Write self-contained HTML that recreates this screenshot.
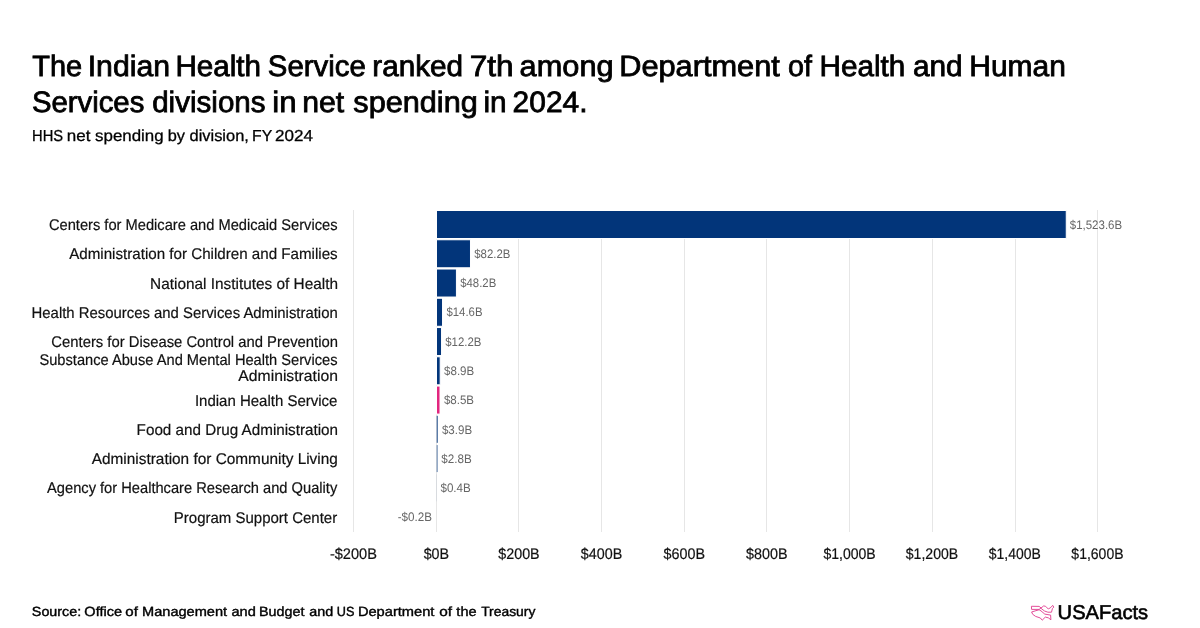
<!DOCTYPE html>
<html><head><meta charset="utf-8"><title>HHS net spending by division, FY 2024</title>
<style>
html,body{margin:0;padding:0;background:#fff;}
body{width:1200px;height:628px;overflow:hidden;position:relative;}
svg{position:absolute;left:0;top:0;will-change:transform;text-rendering:geometricPrecision;}
text{font-family:"Liberation Sans",Arial,sans-serif;}
.t{font-size:29.4px;fill:#000;stroke:#000;stroke-width:0.8px;}
.st{font-size:15.9px;fill:#000;stroke:#000;stroke-width:0.3px;}
.ft{font-size:13.3px;fill:#000;stroke:#000;stroke-width:0.4px;}
.yl{font-size:15.5px;fill:#111;stroke:#111;stroke-width:0.2px;}
.xl{font-size:15.4px;fill:#111;stroke:#111;stroke-width:0.2px;}
.bl{font-size:12.4px;fill:#666;}
.logo{font-size:20px;fill:#000;stroke:#000;stroke-width:0.6px;}
</style></head>
<body>
<svg width="1200" height="628" viewBox="0 0 1200 628">
<text class="t" y="76"><tspan x="32.34" textLength="49.89" lengthAdjust="spacingAndGlyphs">The</tspan> <tspan x="87.7" textLength="82.31" lengthAdjust="spacingAndGlyphs">Indian</tspan> <tspan x="175.44" textLength="85.65" lengthAdjust="spacingAndGlyphs">Health</tspan> <tspan x="267.82" textLength="97.93" lengthAdjust="spacingAndGlyphs">Service</tspan> <tspan x="372.24" textLength="90.92" lengthAdjust="spacingAndGlyphs">ranked</tspan> <tspan x="469.74" textLength="43.96" lengthAdjust="spacingAndGlyphs">7th</tspan> <tspan x="519.63" textLength="94.01" lengthAdjust="spacingAndGlyphs">among</tspan> <tspan x="619.2" textLength="160.64" lengthAdjust="spacingAndGlyphs">Department</tspan> <tspan x="787.98" textLength="23.91" lengthAdjust="spacingAndGlyphs">of</tspan> <tspan x="819.47" textLength="85.81" lengthAdjust="spacingAndGlyphs">Health</tspan> <tspan x="912.92" textLength="49.82" lengthAdjust="spacingAndGlyphs">and</tspan> <tspan x="969.28" textLength="96.57" lengthAdjust="spacingAndGlyphs">Human</tspan></text>
<text class="t" y="112"><tspan x="31.95" textLength="112.39" lengthAdjust="spacingAndGlyphs">Services</tspan> <tspan x="152.16" textLength="113.43" lengthAdjust="spacingAndGlyphs">divisions</tspan> <tspan x="272.24" textLength="24.32" lengthAdjust="spacingAndGlyphs">in</tspan> <tspan x="302.28" textLength="41.98" lengthAdjust="spacingAndGlyphs">net</tspan> <tspan x="353.34" textLength="124.41" lengthAdjust="spacingAndGlyphs">spending</tspan> <tspan x="483.43" textLength="23.2" lengthAdjust="spacingAndGlyphs">in</tspan> <tspan x="512.63" textLength="74.89" lengthAdjust="spacingAndGlyphs">2024.</tspan></text>
<text class="st" y="141"><tspan x="32.07" textLength="31.03" lengthAdjust="spacingAndGlyphs">HHS</tspan> <tspan x="66.87" textLength="23.62" lengthAdjust="spacingAndGlyphs">net</tspan> <tspan x="95.06" textLength="68.61" lengthAdjust="spacingAndGlyphs">spending</tspan> <tspan x="167.79" textLength="17.25" lengthAdjust="spacingAndGlyphs">by</tspan> <tspan x="189.53" textLength="59.34" lengthAdjust="spacingAndGlyphs">division,</tspan> <tspan x="252" textLength="19.92" lengthAdjust="spacingAndGlyphs">FY</tspan> <tspan x="275.08" textLength="37.84" lengthAdjust="spacingAndGlyphs">2024</tspan></text>
<rect x="353" y="210" width="1" height="322" fill="#e6e6e6"/>
<rect x="436" y="210" width="1" height="322" fill="#e6e6e6"/>
<rect x="518" y="210" width="1" height="322" fill="#e6e6e6"/>
<rect x="601" y="210" width="1" height="322" fill="#e6e6e6"/>
<rect x="684" y="210" width="1" height="322" fill="#e6e6e6"/>
<rect x="766" y="210" width="1" height="322" fill="#e6e6e6"/>
<rect x="849" y="210" width="1" height="322" fill="#e6e6e6"/>
<rect x="932" y="210" width="1" height="322" fill="#e6e6e6"/>
<rect x="1015" y="210" width="1" height="322" fill="#e6e6e6"/>
<rect x="1097" y="210" width="1" height="322" fill="#e6e6e6"/>
<rect x="436.5" y="210.5" width="629.75" height="28" fill="#02357a" stroke="#fff" stroke-width="1"/>
<text class="bl" x="1069.79" y="229" textLength="52.33" lengthAdjust="spacingAndGlyphs">$1,523.6B</text>
<text class="yl" x="48.93" y="230" textLength="288.55" lengthAdjust="spacingAndGlyphs">Centers for Medicare and Medicaid Services</text>
<rect x="436.5" y="239.76" width="33.98" height="28" fill="#02357a" stroke="#fff" stroke-width="1"/>
<text class="bl" x="474.22" y="258" textLength="36.14" lengthAdjust="spacingAndGlyphs">$82.2B</text>
<text class="yl" x="69.16" y="259" textLength="268.53" lengthAdjust="spacingAndGlyphs">Administration for Children and Families</text>
<rect x="436.5" y="269.02" width="19.92" height="28" fill="#02357a" stroke="#fff" stroke-width="1"/>
<text class="bl" x="460.16" y="287" textLength="36.07" lengthAdjust="spacingAndGlyphs">$48.2B</text>
<text class="yl" x="150.09" y="289" textLength="187.96" lengthAdjust="spacingAndGlyphs">National Institutes of Health</text>
<rect x="436.5" y="298.28" width="6.03" height="28" fill="#02357a" stroke="#fff" stroke-width="1"/>
<text class="bl" x="446.44" y="316" textLength="36.06" lengthAdjust="spacingAndGlyphs">$14.6B</text>
<text class="yl" x="31.58" y="318" textLength="306.14" lengthAdjust="spacingAndGlyphs">Health Resources and Services Administration</text>
<rect x="436.5" y="327.54" width="5.04" height="28" fill="#02357a" stroke="#fff" stroke-width="1"/>
<text class="bl" x="445.28" y="346" textLength="36.21" lengthAdjust="spacingAndGlyphs">$12.2B</text>
<text class="yl" x="51.37" y="347" textLength="286.59" lengthAdjust="spacingAndGlyphs">Centers for Disease Control and Prevention</text>
<rect x="436.5" y="356.8" width="3.68" height="28" fill="#02357a" stroke="#fff" stroke-width="1"/>
<text class="bl" x="444.07" y="375" textLength="30.17" lengthAdjust="spacingAndGlyphs">$8.9B</text>
<text class="yl" x="39.43" y="365" textLength="298.05" lengthAdjust="spacingAndGlyphs">Substance Abuse And Mental Health Services</text>
<text class="yl" x="238.36" y="381" textLength="99.53" lengthAdjust="spacingAndGlyphs">Administration</text>
<rect x="436.5" y="386.06" width="3.51" height="28" fill="#e2267f" stroke="#fff" stroke-width="1"/>
<text class="bl" x="443.95" y="404" textLength="30.11" lengthAdjust="spacingAndGlyphs">$8.5B</text>
<text class="yl" x="194.89" y="406" textLength="142.57" lengthAdjust="spacingAndGlyphs">Indian Health Service</text>
<rect x="436" y="415.82" width="1" height="27" fill="#02357a" fill-opacity="0.25"/>
<rect x="437" y="415.82" width="1" height="27" fill="#02357a" fill-opacity="0.65"/>
<text class="bl" x="441.92" y="434" textLength="30.19" lengthAdjust="spacingAndGlyphs">$3.9B</text>
<text class="yl" x="136.61" y="435" textLength="201.44" lengthAdjust="spacingAndGlyphs">Food and Drug Administration</text>
<rect x="436" y="445.08" width="1" height="27" fill="#02357a" fill-opacity="0.22"/>
<rect x="437" y="445.08" width="1" height="27" fill="#02357a" fill-opacity="0.42"/>
<text class="bl" x="441.33" y="463" textLength="30.47" lengthAdjust="spacingAndGlyphs">$2.8B</text>
<text class="yl" x="91.78" y="464" textLength="246.05" lengthAdjust="spacingAndGlyphs">Administration for Community Living</text>
<rect x="436" y="474.34" width="1" height="27" fill="#02357a" fill-opacity="0.06"/>
<text class="bl" x="440.45" y="492" textLength="30.33" lengthAdjust="spacingAndGlyphs">$0.4B</text>
<text class="yl" x="47.05" y="493" textLength="290.2" lengthAdjust="spacingAndGlyphs">Agency for Healthcare Research and Quality</text>
<text class="bl" x="397.65" y="521" textLength="34.28" lengthAdjust="spacingAndGlyphs">-$0.2B</text>
<text class="yl" x="173.8" y="523" textLength="163.41" lengthAdjust="spacingAndGlyphs">Program Support Center</text>
<text class="xl" x="329.9" y="559" textLength="47.01" lengthAdjust="spacingAndGlyphs">-$200B</text>
<text class="xl" x="423.65" y="559" textLength="25.46" lengthAdjust="spacingAndGlyphs">$0B</text>
<text class="xl" x="498.28" y="559" textLength="41.38" lengthAdjust="spacingAndGlyphs">$200B</text>
<text class="xl" x="580.87" y="559" textLength="41.45" lengthAdjust="spacingAndGlyphs">$400B</text>
<text class="xl" x="663.49" y="559" textLength="41.48" lengthAdjust="spacingAndGlyphs">$600B</text>
<text class="xl" x="746.09" y="559" textLength="41.56" lengthAdjust="spacingAndGlyphs">$800B</text>
<text class="xl" x="823.4" y="559" textLength="52.28" lengthAdjust="spacingAndGlyphs">$1,000B</text>
<text class="xl" x="905.81" y="559" textLength="52.37" lengthAdjust="spacingAndGlyphs">$1,200B</text>
<text class="xl" x="988.75" y="559" textLength="52.1" lengthAdjust="spacingAndGlyphs">$1,400B</text>
<text class="xl" x="1071.37" y="559" textLength="52.16" lengthAdjust="spacingAndGlyphs">$1,600B</text>
<text class="ft" y="616"><tspan x="31.86" textLength="49.25" lengthAdjust="spacingAndGlyphs">Source:</tspan> <tspan x="84.39" textLength="37.59" lengthAdjust="spacingAndGlyphs">Office</tspan> <tspan x="125.34" textLength="12.57" lengthAdjust="spacingAndGlyphs">of</tspan> <tspan x="142.04" textLength="85.08" lengthAdjust="spacingAndGlyphs">Management</tspan> <tspan x="231.51" textLength="24.26" lengthAdjust="spacingAndGlyphs">and</tspan> <tspan x="258.96" textLength="45.44" lengthAdjust="spacingAndGlyphs">Budget</tspan> <tspan x="309.38" textLength="23.93" lengthAdjust="spacingAndGlyphs">and</tspan> <tspan x="336.83" textLength="17.6" lengthAdjust="spacingAndGlyphs">US</tspan> <tspan x="357.91" textLength="76.5" lengthAdjust="spacingAndGlyphs">Department</tspan> <tspan x="439.31" textLength="12.8" lengthAdjust="spacingAndGlyphs">of</tspan> <tspan x="456.39" textLength="20.16" lengthAdjust="spacingAndGlyphs">the</tspan> <tspan x="481.15" textLength="54.2" lengthAdjust="spacingAndGlyphs">Treasury</tspan></text>
<g fill="none" stroke="#e24594" stroke-width="0.95" stroke-linejoin="round" stroke-linecap="round">
<path d="M1031.8 606.3 L1039.1 606.4 L1041.1 607.95 L1039.1 609.4 L1032 609.4 Z"/>
<path d="M1041.1 607.95 L1043.7 605.9 L1045.6 606.3 L1048.3 609 L1050.9 607.45 L1052.7 605.35 L1053.8 607.07 L1052.4 608.6 L1051.5 612.2 L1047.9 612.2 L1044.8 611.1 Z"/>
<path d="M1032 611.85 L1039.1 609.75 L1041 610.9 L1044.8 614.1 L1050.6 615.1 L1050.9 619.8 L1048.3 617.8 L1045.3 617.1 L1042.2 620.2 L1040.4 618 L1035.6 616.4 L1033 614.5 Z"/>
</g>
<text class="logo" x="1057.64" y="619" textLength="90.57" lengthAdjust="spacingAndGlyphs">USAFacts</text>
</svg>
</body></html>
